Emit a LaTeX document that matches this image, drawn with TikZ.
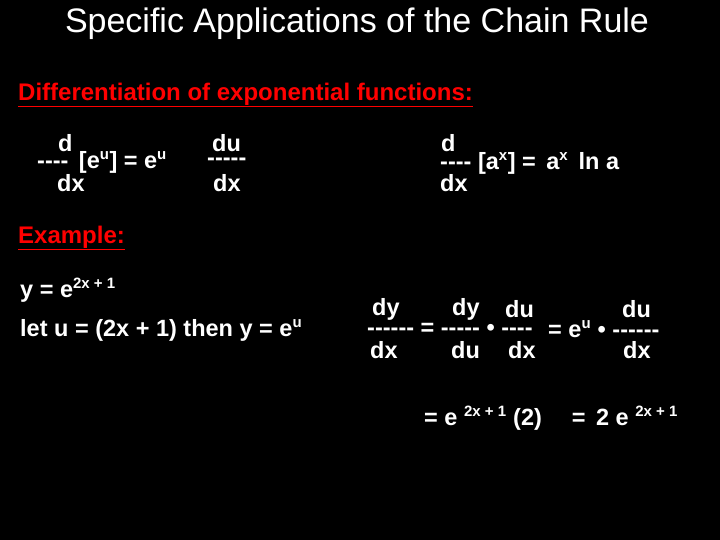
\documentclass[tikz,border=0pt]{standalone}
\usepackage{fontspec}
\setmainfont{Liberation Sans}
\newcommand{\sps}[1]{$^{\mbox{\fontsize{15}{15}\selectfont\bfseries #1}}$}
\begin{document}
\begin{tikzpicture}[x=1pt,y=-1pt,
 t/.style={text=white,anchor=west,inner sep=0pt,font=\fontsize{23.5}{24}\selectfont\bfseries},
 h/.style={text=red,anchor=west,inner sep=0pt,font=\fontsize{24}{24}\selectfont\bfseries}]
\fill[black] (0,0) rectangle (720,540);
\node[text=white,inner sep=0pt,font=\fontsize{34}{36}\selectfont] (title) at (357,24) {Specific Applications of the Chain Rule};
\node[h] (h1) at (18,95) {\underline{Differentiation of exponential functions:}};
\node[t] (a1) at (58,143) {d};
\node[t] (a2) at (37,162) {-{}-{}-{}- \,[e\sps{u}] = e\sps{u}};
\node[t] (a3) at (212,143) {du};
\node[t] (a4) at (207,162) {-{}-{}-{}-{}-};
\node[t] (a5) at (57,183) {dx};
\node[t] (a6) at (213,183) {dx};
\node[t] (b1) at (441,143) {d};
\node[t] (b2) at (440,163) {-{}-{}-{}- [a\sps{x}] = \,a\sps{x} \,ln a};
\node[t] (b3) at (440,183) {dx};
\node[h] (h2) at (18,238) {\underline{Example:}};
\node[t] (e1) at (20,290) {y = e\sps{2x + 1}};
\node[t] (e2) at (20,330) {let u = (2x + 1) then y = e\sps{u}};
\node[t] (c1) at (372,309) {dy};
\node[t] (c2) at (452,309) {dy};
\node[t] (c3) at (505,309) {du};
\node[t] (c4) at (622,309) {du};
\node[t] (c5a) at (367,329) {-{}-{}-{}-{}-{}- = -{}-{}-{}-{}- • -{}-{}-{}-};
\node[t] (c5b) at (548,329) {= e\sps{u} • -{}-{}-{}-{}-{}-};
\node[t] (c6) at (370,350) {dx};
\node[t] (c7) at (451,350) {du};
\node[t] (c8) at (508,350) {dx};
\node[t] (c9) at (623,350) {dx};
\node[t] (d1) at (424,418) {= e \sps{2x + 1} (2) \quad = \,2 e \sps{2x + 1}};
\end{tikzpicture}
\end{document}
